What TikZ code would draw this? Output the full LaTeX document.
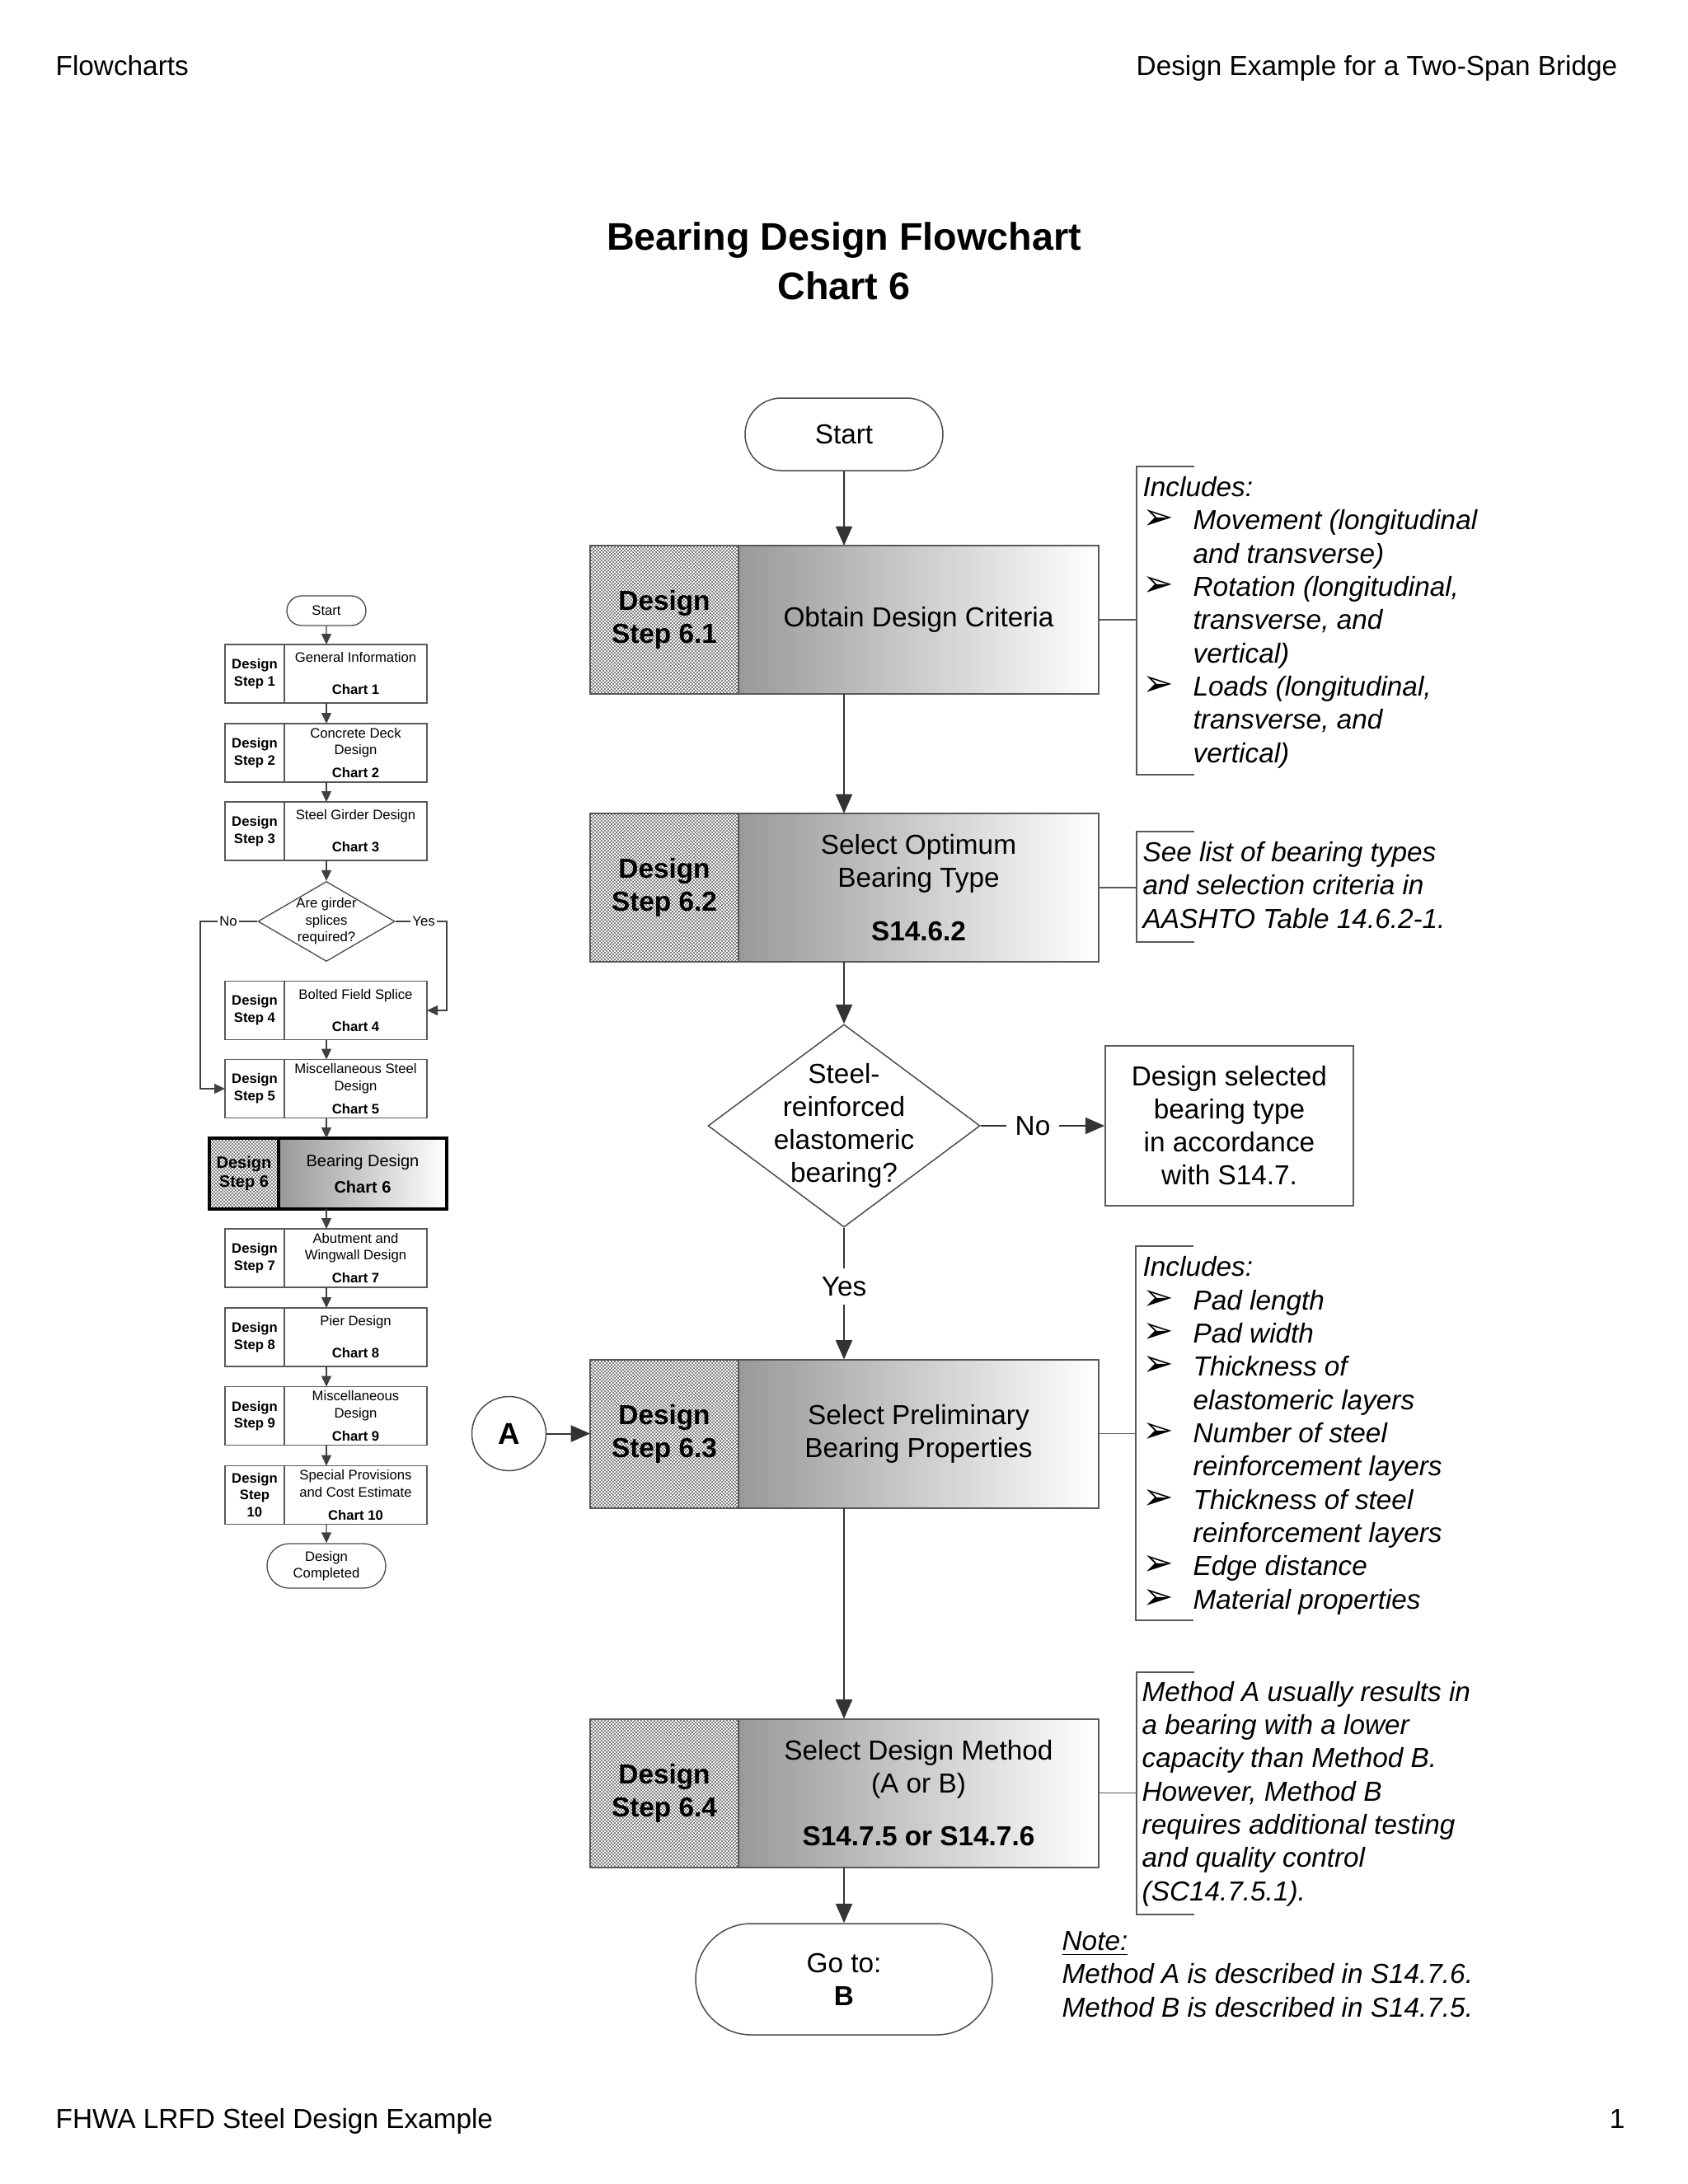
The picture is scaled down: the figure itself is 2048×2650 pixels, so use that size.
\documentclass[tikz,border=0pt]{standalone}
\usepackage{fontspec}
\setmainfont{Liberation Sans}
\newfontfamily\symfont{DejaVu Sans}
\usetikzlibrary{arrows.meta,positioning,shapes.geometric,shapes.misc,patterns}

\pgfdeclarepatternformonly{finecheck}{\pgfqpoint{0pt}{0pt}}{\pgfqpoint{1.2pt}{1.2pt}}{\pgfqpoint{1.2pt}{1.2pt}}{%
  \pgfpathrectangle{\pgfqpoint{0pt}{0pt}}{\pgfqpoint{0.6pt}{0.6pt}}%
  \pgfpathrectangle{\pgfqpoint{0.6pt}{0.6pt}}{\pgfqpoint{0.6pt}{0.6pt}}%
  \pgfusepath{fill}}

\newcommand{\bul}{\makebox[18.3pt][l]{\symfont\upshape\fontsize{13.5}{12}\selectfont\char"27A2}}
\newcommand{\ind}{\hspace*{18.3pt}}
\newcommand{\mainfs}{\fontsize{10}{12}\selectfont}
\newcommand{\tinyfs}{\fontsize{5}{6.2}\selectfont}

\tikzset{
  >={Triangle[length=7pt,width=6pt]},
  link/.style={line width=0.6pt,draw=black!80},
  conn/.style={link,->},
  brk/.style={line width=0.5pt,draw=black!65},
  stepid/.style={rectangle,draw=black!65,line width=0.6pt,outer sep=0pt,inner sep=0pt,pattern=finecheck,pattern color=black!50,minimum width=54pt,minimum height=54pt,align=center,font=\mainfs\bfseries},
  steptask/.style={rectangle,draw=black!65,line width=0.6pt,outer sep=0pt,inner sep=0pt,left color=black!40,right color=white,minimum width=131.1pt,minimum height=54pt,align=center,font=\mainfs},
  terminal/.style={rounded rectangle,draw=black!70,line width=0.45pt,inner sep=0pt,align=center,font=\mainfs},
  decision/.style={diamond,draw=black!70,line width=0.45pt,inner sep=0pt},
  infobox/.style={rectangle,draw=black!65,line width=0.5pt,inner sep=0pt,align=center,font=\mainfs},
  lbl/.style={inner sep=3pt,font=\mainfs},
  % anchored on the baseline of the last line
  remark/.style={anchor=base west,align=left,inner sep=0pt,font=\fontsize{10}{12.1}\selectfont\itshape},
  % overview chart on the left
  sconn/.style={-{Triangle[length=3.9pt,width=3.6pt]},line width=0.4pt,draw=black!75},
  slink/.style={line width=0.4pt,draw=black!75},
  sid/.style={rectangle,draw=black!65,line width=0.45pt,outer sep=0pt,inner sep=0pt,minimum width=21.6pt,minimum height=21.3pt,align=center,font=\tinyfs\bfseries},
  stask/.style={rectangle,draw=black!65,line width=0.45pt,outer sep=0pt,inner sep=0pt,minimum width=51.9pt,minimum height=21.3pt,align=center,font=\tinyfs},
  sidnow/.style={sid,draw=black,line width=1.2pt,pattern=finecheck,pattern color=black!50,minimum width=25.2pt,minimum height=25.8pt,font=\fontsize{6}{7}\selectfont\bfseries},
  stasknow/.style={stask,draw=black,line width=1.2pt,left color=black!40,right color=white,minimum width=61.2pt,minimum height=25.8pt,font=\fontsize{6}{7.2}\selectfont},
  sterm/.style={terminal,line width=0.4pt,font=\tinyfs},
  slbl/.style={inner sep=0.5pt,font=\tinyfs}
}

\begin{document}
\begin{tikzpicture}[x=0.3pt,y=-0.3pt,font=\mainfs]
  \useasboundingbox (0,0) rectangle (2048,2650);

  % Page header and footer
  \node[anchor=base west,inner sep=0pt] (head) at (67,91) {Flowcharts};
  \node[anchor=base east,inner sep=0pt] (headr) at (1963,91) {Design Example for a Two-Span Bridge};
  \node[anchor=base west,inner sep=0pt] (foot) at (67,2582) {FHWA LRFD Steel Design Example};
  \node[anchor=base east,inner sep=0pt] (page) at (1972,2582) {1};

  % Title
  \node[anchor=base,align=center,inner sep=0pt,font=\fontsize{14}{18}\selectfont\bfseries] (title) at (1024,363) {Bearing Design Flowchart\\Chart 6};

  % Main chart
  \node[terminal,minimum width=72pt,minimum height=26.4pt] (start) at (1024,527) {Start};
  \node[stepid] (id61) at (806,752) {Design\\Step 6.1};
  \node[steptask,right=0pt of id61] (t61) {Obtain Design Criteria};
  \node[stepid] (id62) at (806,1077) {Design\\Step 6.2};
  \node[steptask,right=0pt of id62] (t62) {Select Optimum\\Bearing Type\\[7.5pt]\textbf{S14.6.2}};

  % Elastomeric decision
  \node[decision,minimum width=99pt,minimum height=73.8pt] (dia) at (1024,1366) {};
  \node[align=center,inner sep=0pt] (diatxt) at (dia) {Steel-\\reinforced\\elastomeric\\bearing?};
  \node[lbl] (nolbl) at (1253,1366) {No};
  \node[infobox,minimum width=90.3pt,minimum height=58.2pt] (sel) at (1491.5,1366) {Design selected\\bearing type\\in accordance\\with S14.7.};
  \node[lbl] (yeslbl) at (1024,1561) {Yes};

  \node[stepid] (id63) at (806,1739.5) {Design\\Step 6.3};
  \node[steptask,right=0pt of id63] (t63) {Select Preliminary\\Bearing Properties};
  \node[circle,draw=black!70,line width=0.45pt,minimum size=27pt,inner sep=0pt,font=\fontsize{11}{13}\selectfont\bfseries] (conA) at (617.5,1739.5) {A};
  \node[stepid] (id64) at (806,2175.5) {Design\\Step 6.4};
  \node[steptask,right=0pt of id64] (t64) {Select Design Method\\(A or B)\\[7pt]\textbf{S14.7.5 or S14.7.6}};
  \node[terminal,minimum width=108pt,minimum height=40.5pt] (goto) at (1024,2401.5) {Go to:\\\textbf{B}};

  % Main connectors
  \draw[conn] (start) -- (start |- t61.north);
  \draw[conn] (start |- t61.south) -- (start |- t62.north);
  \draw[conn] (start |- t62.south) -- (dia.north);
  \draw[link] (dia.east) -- (nolbl.west);
  \draw[conn] (nolbl.east) -- (sel.west);
  \draw[link] (dia.south) -- (yeslbl.north);
  \draw[conn] (yeslbl.south) -- (start |- t63.north);
  \draw[conn] (conA.east) -- (id63.west);
  \draw[conn] (start |- t63.south) -- (start |- t64.north);
  \draw[conn] (start |- t64.south) -- (goto.north);

  % Remarks with brackets
  \coordinate (b61) at (1379,566);
  \draw[brk] ([xshift=21pt]b61) -- (b61) -- ++(0,374) -- ++(70,0);
  \draw[brk] (t61.east) -- (t61.east -| b61);
  \node[remark] (n61) at (1386,925) {Includes:\\
    \bul Movement (longitudinal\\
    \ind and transverse)\\
    \bul Rotation (longitudinal,\\
    \ind transverse, and\\
    \ind vertical)\\
    \bul Loads (longitudinal,\\
    \ind transverse, and\\
    \ind vertical)};

  \coordinate (b62) at (1379,1009);
  \draw[brk] ([xshift=21pt]b62) -- (b62) -- ++(0,134) -- ++(70,0);
  \draw[brk] (t62.east) -- (t62.east -| b62);
  \node[remark] (n62) at (1386,1126) {See list of bearing types\\and selection criteria in\\AASHTO Table 14.6.2-1.};

  \coordinate (b63) at (1378,1512);
  \draw[brk] ([xshift=21pt]b63) -- (b63) -- ++(0,454) -- ++(70,0);
  \draw[brk] (t63.east) -- (t63.east -| b63);
  \node[remark] (n63) at (1386,1952) {Includes:\\
    \bul Pad length\\
    \bul Pad width\\
    \bul Thickness of\\
    \ind elastomeric layers\\
    \bul Number of steel\\
    \ind reinforcement layers\\
    \bul Thickness of steel\\
    \ind reinforcement layers\\
    \bul Edge distance\\
    \bul Material properties};

  \coordinate (b64) at (1379,2029);
  \draw[brk] ([xshift=21pt]b64) -- (b64) -- ++(0,294) -- ++(70,0);
  \draw[brk] (t64.east) -- (t64.east -| b64);
  \node[remark] (n64) at (1385,2306) {Method A usually results in\\a bearing with a lower\\capacity than Method B.\\However, Method B\\requires additional testing\\and quality control\\(SC14.7.5.1).};

  \node[remark] (note) at (1288,2447) {\underline{Note:}\\Method A is described in S14.7.6.\\Method B is described in S14.7.5.};

  % Overview chart
  \node[sterm,minimum width=28.8pt,minimum height=10.8pt] (ovstart) at (396,741) {Start};
  \node[sid] (ova1) at (309,817.5) {Design\\Step 1};
  \node[stask,right=0pt of ova1] (ovb1) {General Information\\[5.5pt]\textbf{Chart 1}};
  \node[sid] (ova2) at (309,913.5) {Design\\Step 2};
  \node[stask,right=0pt of ova2] (ovb2) {Concrete Deck\\Design\\[2.2pt]\textbf{Chart 2}};
  \node[sid] (ova3) at (309,1008.5) {Design\\Step 3};
  \node[stask,right=0pt of ova3] (ovb3) {Steel Girder Design\\[5.5pt]\textbf{Chart 3}};
  \node[decision,line width=0.4pt,minimum width=49.8pt,minimum height=29.1pt] (ovdia) at (396,1118) {};
  \node[align=center,font=\tinyfs,inner sep=0pt] (ovdiatxt) at (ovdia) {Are girder\\splices\\required?};
  \node[slbl] (ovno) at (277,1118) {No};
  \node[slbl] (ovyes) at (514,1118) {Yes};
  \coordinate (ovnoc) at (243,1118);
  \coordinate (ovyesc) at (542,1118);
  \node[sid] (ova4) at (309,1226) {Design\\Step 4};
  \node[stask,right=0pt of ova4] (ovb4) {Bolted Field Splice\\[5.5pt]\textbf{Chart 4}};
  \node[sid] (ova5) at (309,1321) {Design\\Step 5};
  \node[stask,right=0pt of ova5] (ovb5) {Miscellaneous Steel\\Design\\[2.2pt]\textbf{Chart 5}};
  \node[sidnow] (ova6) at (296,1424) {Design\\Step 6};
  \node[stasknow,right=0pt of ova6] (ovb6) {Bearing Design\\[2.4pt]\textbf{Chart 6}};
  \node[sid] (ova7) at (309,1526.5) {Design\\Step 7};
  \node[stask,right=0pt of ova7] (ovb7) {Abutment and\\Wingwall Design\\[2.2pt]\textbf{Chart 7}};
  \node[sid] (ova8) at (309,1622.5) {Design\\Step 8};
  \node[stask,right=0pt of ova8] (ovb8) {Pier Design\\[5.5pt]\textbf{Chart 8}};
  \node[sid] (ova9) at (309,1718) {Design\\Step 9};
  \node[stask,right=0pt of ova9] (ovb9) {Miscellaneous\\Design\\[2.2pt]\textbf{Chart 9}};
  \node[sid] (ova10) at (309,1814) {Design\\Step\\10};
  \node[stask,right=0pt of ova10] (ovb10) {Special Provisions\\and Cost Estimate\\[2.2pt]\textbf{Chart 10}};
  \node[sterm,minimum width=43.2pt,minimum height=16.2pt] (ovend) at (396,1900) {Design\\Completed};

  % Overview connectors
  \draw[sconn] (ovstart) -- (ovstart |- ovb1.north);
  \draw[sconn] (ovstart |- ovb1.south) -- (ovstart |- ovb2.north);
  \draw[sconn] (ovstart |- ovb2.south) -- (ovstart |- ovb3.north);
  \draw[sconn] (ovstart |- ovb3.south) -- (ovdia.north);
  \draw[slink] (ovdia.west) -- (ovno.east);
  \draw[sconn] (ovno.west) -- (ovnoc) |- (ova5.west);
  \draw[slink] (ovdia.east) -- (ovyes.west);
  \draw[sconn] (ovyes.east) -- (ovyesc) |- (ovb4.east);
  \draw[sconn] (ovstart |- ovb4.south) -- (ovstart |- ovb5.north);
  \draw[sconn] (ovstart |- ovb5.south) -- (ovstart |- ovb6.north);
  \draw[sconn] (ovstart |- ovb6.south) -- (ovstart |- ovb7.north);
  \draw[sconn] (ovstart |- ovb7.south) -- (ovstart |- ovb8.north);
  \draw[sconn] (ovstart |- ovb8.south) -- (ovstart |- ovb9.north);
  \draw[sconn] (ovstart |- ovb9.south) -- (ovstart |- ovb10.north);
  \draw[sconn] (ovstart |- ovb10.south) -- (ovend);
\end{tikzpicture}
\end{document}
